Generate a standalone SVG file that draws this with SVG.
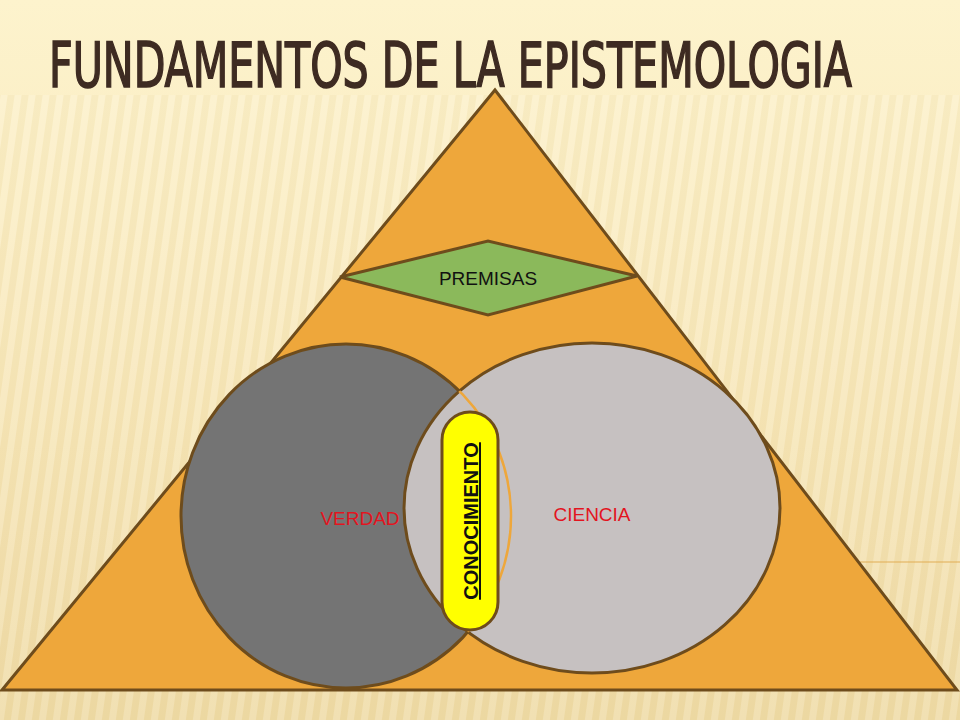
<svg xmlns="http://www.w3.org/2000/svg" width="960" height="720" viewBox="0 0 960 720">
<defs>
<style>
.outline{stroke:#6e4c1c;stroke-width:3}
.lbl{font-family:"Liberation Sans",Arial,sans-serif;font-size:19px;text-anchor:middle}
.red{fill:#e3141f}
.title{font-family:"DejaVu Sans Condensed","Liberation Sans Narrow",sans-serif;font-size:62px;fill:#3e2b22;stroke:#3e2b22;stroke-width:1.6}
</style>
<linearGradient id="bg" x1="0" y1="0" x2="0" y2="1">
<stop offset="0" stop-color="#fdf3cd"/>
<stop offset="0.5" stop-color="#f8e8bb"/>
<stop offset="1" stop-color="#efdba6"/>
</linearGradient>
<pattern id="stripes" width="14" height="20" patternUnits="userSpaceOnUse" patternTransform="skewX(-8)">
<rect width="7" height="20" fill="#ffffff" opacity="0.14"/>
<rect x="7" width="7" height="20" fill="#c9a860" opacity="0.07"/>
</pattern>
<clipPath id="rightClip"><ellipse cx="592" cy="508" rx="188" ry="165"/></clipPath>
</defs>

<rect width="960" height="720" fill="url(#bg)"/>
<rect y="95" width="960" height="625" fill="url(#stripes)"/>
<line x1="860" y1="562" x2="960" y2="562" stroke="#e2ad55" stroke-width="1.2"/>

<g id="title">
<text class="title" x="49" y="87" textLength="803" lengthAdjust="spacingAndGlyphs">FUNDAMENTOS DE LA EPISTEMOLOGIA</text>
</g>

<g id="triangle">
<polygon points="495,90 957,690 2,690" fill="#eea73b" class="outline"/>
</g>

<g id="premisas">
<polygon points="340,277 488,241 637,276 488,315" fill="#8bb95b" class="outline"/>
<text class="lbl" x="488" y="285" fill="#111">PREMISAS</text>
</g>

<g id="verdad">
<ellipse cx="346" cy="516" rx="165" ry="172" fill="#747474" class="outline"/>
</g>

<g id="ciencia">
<ellipse cx="592" cy="508" rx="188" ry="165" fill="#c6c1c1" class="outline"/>
<ellipse cx="346" cy="516" rx="165" ry="172" fill="none" stroke="#eea73b" stroke-width="2.5" clip-path="url(#rightClip)"/>
<text class="lbl red" x="592" y="521">CIENCIA</text>
</g>

<g id="verdad-label">
<text class="lbl red" x="360" y="525">VERDAD</text>
</g>

<g id="conocimiento">
<rect x="442" y="412" width="56" height="218" rx="28" ry="28" fill="#ffff00" class="outline"/>
<text x="0" y="0" transform="translate(478,521) rotate(-90)" font-family="'Liberation Sans',Arial,sans-serif" font-size="20" font-weight="bold" text-anchor="middle" fill="#111" text-decoration="underline">CONOCIMIENTO</text>
</g>
</svg>
